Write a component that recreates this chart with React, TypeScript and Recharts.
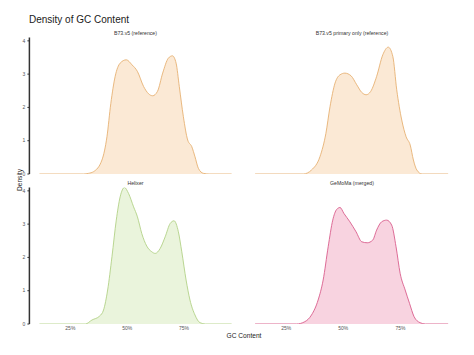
import React from 'react';
import { AreaChart, Area, XAxis, YAxis } from 'recharts';

// GC content (fraction) and density per panel
const b73Gc = [0.114, 0.308, 0.330, 0.352, 0.389, 0.411, 0.428, 0.447, 0.469, 0.496, 0.521, 0.545, 0.572, 0.594, 0.612, 0.633, 0.656, 0.681, 0.699, 0.715, 0.729, 0.747, 0.766, 0.784, 0.798, 0.813, 0.835, 0.86, 0.959];
const b73Density = [0, 0, 0.02, 0.07, 0.42, 1.12, 2.12, 2.93, 3.33, 3.43, 3.28, 3.08, 2.63, 2.41, 2.35, 2.48, 3.03, 3.48, 3.55, 3.33, 2.63, 1.72, 1.02, 0.82, 0.52, 0.17, 0.02, 0, 0];

const primaryGc = [0.114, 0.325, 0.361, 0.398, 0.424, 0.442, 0.464, 0.486, 0.507, 0.534, 0.559, 0.581, 0.600, 0.620, 0.646, 0.673, 0.697, 0.717, 0.734, 0.756, 0.775, 0.793, 0.807, 0.822, 0.845, 0.959];
const primaryDensity = [0, 0, 0.12, 0.52, 1.22, 2.02, 2.73, 2.98, 3.03, 2.95, 2.68, 2.45, 2.38, 2.48, 2.93, 3.58, 3.81, 3.53, 2.53, 1.62, 1.12, 0.87, 0.42, 0.12, 0, 0];

const helixerGc = [0.114, 0.316, 0.345, 0.379, 0.396, 0.414, 0.433, 0.452, 0.469, 0.488, 0.506, 0.528, 0.545, 0.564, 0.586, 0.608, 0.623, 0.645, 0.667, 0.689, 0.706, 0.725, 0.740, 0.759, 0.776, 0.798, 0.820, 0.845, 0.959];
const helixerDensity = [0, 0, 0.12, 0.24, 0.42, 1.02, 2.02, 3.12, 3.82, 4.1, 3.92, 3.52, 3.22, 2.72, 2.34, 2.17, 2.12, 2.27, 2.62, 3.02, 3.1, 2.77, 2.17, 1.32, 0.72, 0.27, 0.04, 0, 0];

const gemomaGc = [0.114, 0.295, 0.332, 0.361, 0.390, 0.412, 0.434, 0.454, 0.471, 0.486, 0.503, 0.529, 0.556, 0.581, 0.605, 0.629, 0.646, 0.668, 0.690, 0.712, 0.731, 0.749, 0.771, 0.790, 0.810, 0.836, 0.86, 0.959];
const gemomaDensity = [0, 0, 0.07, 0.27, 0.72, 1.32, 2.32, 3.12, 3.44, 3.5, 3.32, 3.07, 2.77, 2.47, 2.44, 2.52, 2.82, 3.07, 3.12, 2.97, 2.32, 1.52, 1.02, 0.62, 0.22, 0.04, 0, 0];

const panelTitles = ['B73.v5 (reference)', 'B73.v5 primary only (reference)', 'Helixer', 'GeMoMa (merged)'];
const xTicks = [0.25, 0.5, 0.75];
const yTicks = [0, 1, 2, 3, 4];

const build = (gc: number[], d: number[]) => gc.map((g, i) => ({ gc: g, density: d[i] }));

const FONT = '"Liberation Sans", Arial, sans-serif';
const X_DOMAIN: [number, number] = [0.07, 1.003];
const Y_DOMAIN: [number, number] = [0, 4.1];

type PanelProps = {
  data: { gc: number; density: number }[];
  left: number;
  top: number;
  width: number;
  height: number;
  showY: boolean;
  showX: boolean;
  fill: string;
  stroke: string;
};

function Panel({ data, left, top, width, height, showY, showX, fill, stroke }: PanelProps) {
  return (
    <div style={{ position: 'absolute', left, top, width, height }}>
      <AreaChart
        width={width}
        height={height}
        data={data}
        margin={{ top: 7.5, right: 0.4, left: 0, bottom: showX ? 0 : 6 }}
      >
        <XAxis
          dataKey="gc"
          type="number"
          domain={X_DOMAIN}
          ticks={xTicks}
          hide={!showX}
          height={16}
          axisLine={false}
          tickLine={false}
          tickSize={0}
          tickMargin={2}
          tick={{ fontSize: 5, fill: '#555', fontFamily: FONT }}
          tickFormatter={(v: number) => `${Math.round(v * 100)}%`}
          allowDataOverflow
        />
        <YAxis
          type="number"
          domain={Y_DOMAIN}
          ticks={yTicks}
          hide={!showY}
          width={29.4}
          axisLine={{ stroke: '#333', strokeWidth: 1.5 }}
          tickLine={{ stroke: '#333', strokeWidth: 1 }}
          tickSize={2}
          tickMargin={2}
          tick={{ fontSize: 5, fill: '#555', fontFamily: FONT }}
          allowDataOverflow
        />
        <Area
          type="monotone"
          dataKey="density"
          stroke={stroke}
          strokeWidth={0.9}
          fill={fill}
          fillOpacity={1}
          isAnimationActive={false}
          dot={false}
          activeDot={false}
        />
      </AreaChart>
    </div>
  );
}

export default function App() {
  const peach = '#FBE9D5';
  const peachLine = '#E6B173';
  return (
    <div style={{ position: 'absolute', left: 0, top: 0, width: 474, height: 355, background: '#fff', overflow: 'hidden' }}>
      <Panel data={build(b73Gc, b73Density)} left={0} top={30} width={242} height={150} showY showX={false} fill={peach} stroke={peachLine} />
      <Panel data={build(primaryGc, primaryDensity)} left={245.4} top={30} width={213.6} height={150} showY={false} showX={false} fill={peach} stroke={peachLine} />
      <Panel data={build(helixerGc, helixerDensity)} left={0} top={180} width={242} height={160} showY showX fill="#EAF4DC" stroke="#B2D187" />
      <Panel data={build(gemomaGc, gemomaDensity)} left={245.4} top={180} width={213.6} height={160} showY={false} showX fill="#F8D3E0" stroke="#D95E8C" />
      <svg width={474} height={355} style={{ position: 'absolute', left: 0, top: 0, pointerEvents: 'none' }}>
        <text x={29} y={23} fontSize={10} fill="#1a1a1a" fontFamily={FONT}>Density of GC Content</text>
        <text x={135.5} y={35} fontSize={5.2} fill="#333" textAnchor="middle" fontFamily={FONT}>{panelTitles[0]}</text>
        <text x={352} y={35} fontSize={5.2} fill="#333" textAnchor="middle" fontFamily={FONT}>{panelTitles[1]}</text>
        <text x={135.5} y={184.5} fontSize={5.2} fill="#333" textAnchor="middle" fontFamily={FONT}>{panelTitles[2]}</text>
        <text x={352} y={184.5} fontSize={5.2} fill="#333" textAnchor="middle" fontFamily={FONT}>{panelTitles[3]}</text>
        <text x={244} y={338} fontSize={6.6} fill="#1a1a1a" textAnchor="middle" fontFamily={FONT}>GC Content</text>
        <text x={22} y={180} fontSize={6.6} fill="#1a1a1a" textAnchor="middle" fontFamily={FONT} transform="rotate(-90 22 180)">Density</text>
      </svg>
    </div>
  );
}
